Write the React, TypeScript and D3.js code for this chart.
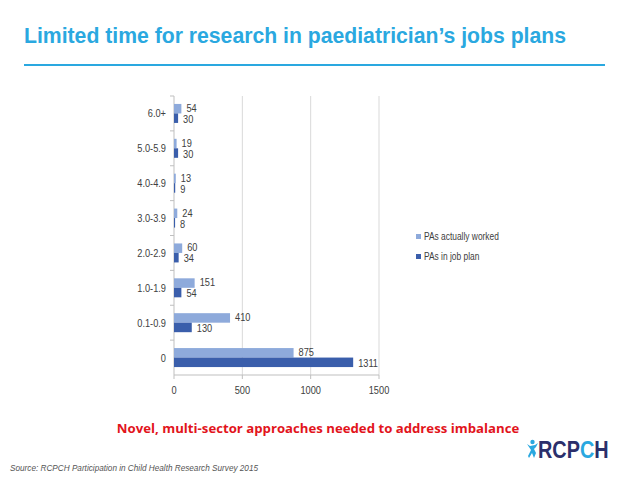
import React from 'react';
import * as d3 from 'd3';

const categories = ['6.0+', '5.0-5.9', '4.0-4.9', '3.0-3.9', '2.0-2.9', '1.0-1.9', '0.1-0.9', '0'];
const worked = [54, 19, 13, 24, 60, 151, 410, 875];
const jobPlan = [30, 30, 9, 8, 34, 54, 130, 1311];
const xTicks = [0, 500, 1000, 1500];
const seriesNames = ['PAs actually worked', 'PAs in job plan'];

const LIGHT = '#8eaadb';
const DARK = '#3a5eab';
const BLUE = '#2aa8e0';
const SANS = '"Liberation Sans", Arial, sans-serif';

// Calibri-like narrow text: squeeze a normal sans horizontally
const Narrow = ({ x, y, anchor = 'start', size = 10.5, children }: any) => (
    <g transform={`translate(${x},${y}) scale(0.84,1)`}>
        <text textAnchor={anchor} fontFamily={SANS} fontSize={size} fill="#404040">{children}</text>
    </g>
);

export default function App() {
    const width = 638;
    const height = 478;

    const x = d3.scaleLinear().domain([0, 1500]).range([174, 379]);
    const y = d3.scaleBand().domain(categories).range([96, 375]);
    const bar = 9.5;

    return (
        <svg width={width} height={height} style={{ position: 'absolute', left: 0, top: 0, background: '#fff' }}>
            {/* heading */}
            <text x={24} y={43} fill={BLUE} fontFamily={SANS} fontWeight="bold" fontSize={21.2}>
                Limited time for research in paediatrician’s jobs plans
            </text>
            <line x1={24} x2={605} y1={65} y2={65} stroke={BLUE} strokeWidth={2} />

            {/* grid */}
            {xTicks.filter(t => t > 0).map(t => (
                <line key={t} x1={x(t)} x2={x(t)} y1={96} y2={375} stroke="#d9d9d9" strokeWidth={1} />
            ))}
            <line x1={174} x2={174} y1={96} y2={375} stroke="#bfbfbf" />
            <line x1={174} x2={379} y1={375} y2={375} stroke="#bfbfbf" />
            {categories.map((c, i) => (
                <line key={c} x1={170} x2={174} y1={y.range()[0] + i * y.step()} y2={y.range()[0] + i * y.step()} stroke="#bfbfbf" />
            ))}
            {xTicks.map(t => (
                <line key={'t' + t} x1={x(t)} x2={x(t)} y1={375} y2={379} stroke="#bfbfbf" />
            ))}

            {/* bars */}
            {categories.map((c, i) => {
                const cy = (y(c) as number) + y.bandwidth() / 2;
                return (
                    <g key={c}>
                        <Narrow x={166} y={cy + 4} anchor="end" size={11}>{c}</Narrow>
                        <rect x={x(0)} y={cy - bar} width={x(worked[i]) - x(0)} height={bar} fill={LIGHT} />
                        <rect x={x(0)} y={cy} width={x(jobPlan[i]) - x(0)} height={bar} fill={DARK} />
                        <Narrow x={x(worked[i]) + 5} y={cy - 1.5} size={11}>{worked[i]}</Narrow>
                        <Narrow x={x(jobPlan[i]) + 5} y={cy + 9.5} size={11}>{jobPlan[i]}</Narrow>
                    </g>
                );
            })}

            {xTicks.map(t => (
                <Narrow key={'l' + t} x={x(t)} y={394} anchor="middle" size={11}>{t}</Narrow>
            ))}

            {/* legend */}
            {seriesNames.map((s, i) => (
                <g key={s}>
                    <rect x={416} y={234 + i * 20} width={5} height={5} fill={i === 0 ? LIGHT : DARK} />
                    <Narrow x={424} y={240 + i * 20} size={10}>{s}</Narrow>
                </g>
            ))}

            {/* message */}
            <text x={318} y={433} textAnchor="middle" fill="#e2141c" fontFamily="Open Sans, sans-serif" fontWeight="bold" fontSize={13.2}>
                Novel, multi-sector approaches needed to address imbalance
            </text>
            <text x={10} y={471} fill="#555" fontFamily={SANS} fontStyle="italic" fontSize={8.2}>
                Source: RCPCH Participation in Child Health Research Survey 2015
            </text>

            {/* logo */}
            <g transform="translate(532,449)" fill={BLUE}>
                <circle cx={0.5} cy={-7} r={2.2} />
                <path d="M-5,-5 L-2,-3 L3,-4 L6,-6 L4,-2 L2,0 L4,4 L2,9 L0,4 L-3,9 L-4,7 L-1,1 L-3,-2 Z" />
            </g>
            <g transform="translate(538,458) scale(0.81,1)">
                <text fontFamily={SANS} fontWeight="bold" fontSize={24.5} fill="#2b2f6b">
                    RCP<tspan fill={BLUE}>C</tspan>H
                </text>
            </g>
        </svg>
    );
}
